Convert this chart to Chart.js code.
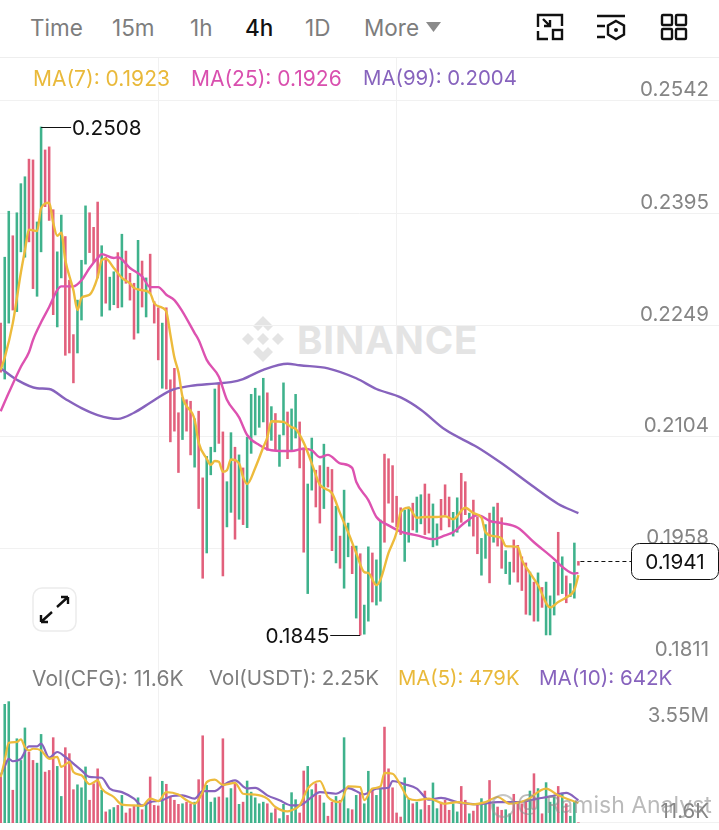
<!DOCTYPE html>
<html>
<head>
<meta charset="utf-8">
<title>CFG/USDT 4h</title>
<script src="https://cdn.jsdelivr.net/npm/chart.js@4"></script>
<style>
html, body { margin: 0; padding: 0; background: #fff; }
body { width: 719px; height: 830px; position: relative; overflow: hidden; font-family: Inter, sans-serif; }
.txt { position: absolute; white-space: nowrap; line-height: 1; }
canvas { position: absolute; left: 0; }
#priceChart { top: 58px; }
#volChart { top: 661px; }
#rule { position: absolute; left: 0; top: 57px; width: 719px; height: 1px; background: #eeeeee; }
</style>
</head>
<body>
<!-- watermark sits under the charts -->
<svg style="position:absolute;left:238px;top:314px" width="50" height="50" viewBox="0 0 50 50" fill="#e4e4e4">
  <path d="M25 2 L35 12 L30 17 L25 12 L20 17 L15 12 Z"/>
  <path d="M25 48 L35 38 L30 33 L25 38 L20 33 L15 38 Z"/>
  <path d="M25 19 L31 25 L25 31 L19 25 Z"/>
  <path d="M10 19 L16 25 L10 31 L4 25 Z"/>
  <path d="M40 19 L46 25 L40 31 L34 25 Z"/>
</svg>
<div class="txt" style="left:297px;top:321px;font-size:38.5px;font-weight:700;color:#e4e4e4;letter-spacing:.8px">BINANCE</div>

<canvas id="priceChart" width="719" height="603"></canvas>
<canvas id="volChart" width="719" height="162"></canvas>
<div id="rule"></div>

<div class="txt" style="left:30px;top:17px;font-size:22.5px;color:#7d7d7d">Time</div>
<div class="txt" style="left:112px;top:17px;font-size:22.5px;color:#7d7d7d">15m</div>
<div class="txt" style="left:190px;top:17px;font-size:22.5px;color:#7d7d7d">1h</div>
<div class="txt" style="left:245px;top:17px;font-size:22.5px;color:#111;font-weight:500">4h</div>
<div class="txt" style="left:305px;top:17px;font-size:22.5px;color:#7d7d7d">1D</div>
<div class="txt" style="left:364px;top:17px;font-size:22.5px;color:#7d7d7d">More</div>
<svg style="position:absolute;left:426px;top:22px" width="15" height="11"><path d="M0 0H15L7.5 10Z" fill="#8a8a8a"/></svg>

<svg style="position:absolute;left:536px;top:13px" width="28" height="28" viewBox="0 0 28 28" fill="none" stroke="#111" stroke-width="2.4">
  <path d="M2 14V2H26V13M2 18V26H12"/><rect x="17" y="17" width="9" height="9"/><path d="M7 6L14 13M14 7V13H8"/>
</svg>
<svg style="position:absolute;left:597px;top:13px" width="30" height="28" viewBox="0 0 30 28" fill="none" stroke="#111" stroke-width="2.4">
  <path d="M0 3H28M0 13H8M0 24H8"/><path d="M19 8L27 12.5V21.5L19 26L11 21.5V12.5Z"/><circle cx="19" cy="17" r="2" fill="#111" stroke="none"/>
</svg>
<svg style="position:absolute;left:660px;top:13px" width="28" height="28" viewBox="0 0 28 28" fill="none" stroke="#111" stroke-width="2.4">
  <rect x="2" y="2" width="10" height="10" rx="1"/><rect x="16" y="2" width="10" height="10" rx="1"/>
  <rect x="2" y="16" width="10" height="10" rx="1"/><rect x="16" y="16" width="10" height="10" rx="1"/>
</svg>

<div class="txt" style="left:33px;top:68px;font-size:21px;color:#e9b93a">MA(7): 0.1923</div>
<div class="txt" style="left:191px;top:68px;font-size:21px;color:#d94fae">MA(25): 0.1926</div>
<div class="txt" style="left:363px;top:68px;font-size:20.4px;color:#8763bd">MA(99): 0.2004</div>

<div class="txt" style="left:32px;top:668px;font-size:21px;color:#7d7d7d">Vol(CFG): 11.6K</div>
<div class="txt" style="left:209px;top:668px;font-size:20.5px;color:#7d7d7d">Vol(USDT): 2.25K</div>
<div class="txt" style="left:398px;top:668px;font-size:20.3px;color:#e9b93a">MA(5): 479K</div>
<div class="txt" style="left:539px;top:668px;font-size:20.6px;color:#8763bd">MA(10): 642K</div>

<svg style="position:absolute;left:32px;top:587px" width="45" height="45" viewBox="0 0 45 45" fill="none">
  <rect x="1" y="1" width="43" height="43" rx="9" fill="#fff" stroke="#ececec" stroke-width="1.5"/>
  <path d="M9 35L20 25M9 35V28M9 35H16M36 10L25 20M36 10V17M36 10H29" stroke="#111" stroke-width="2.4"/>
</svg>

<!-- repost watermark over the volume pane -->
<svg style="position:absolute;left:488px;top:791px" width="30" height="30" fill="none" stroke="rgba(150,150,150,.55)" stroke-width="2"><circle cx="15" cy="15" r="11"/></svg>
<div class="txt" style="left:517px;top:794px;font-size:23px;color:rgba(140,140,140,.6)">@ Ramish Analyst</div>

<script>
// candles, top to bottom of each bar
const candleHigh = [
  0.2252,0.2338,0.2398,0.2366,0.2396,0.2434,0.2443,0.2466,0.2465,0.2384,
  0.2508,0.2478,0.2482,0.2400,0.2345,0.2393,0.2365,0.2308,0.2237,0.2282,
  0.2334,0.2405,0.2396,0.2377,0.2410,0.2353,0.2338,0.2312,0.2319,0.2344,
  0.2368,0.2346,0.2317,0.2304,0.2360,0.2333,0.2311,0.2342,0.2280,0.2272,
  0.2252,0.2272,0.2178,0.2193,0.2135,0.2155,0.2152,0.2150,0.2127,0.2137,
  0.2050,0.2078,0.2090,0.2166,0.2174,0.2110,0.2045,0.2109,0.2090,0.2080,
  0.2063,0.2103,0.2159,0.2167,0.2157,0.2180,0.2161,0.2143,0.2134,0.2106,
  0.2174,0.2136,0.2140,0.2159,0.2123,0.2089,0.2042,0.2102,0.2060,0.2066,
  0.2094,0.2064,0.2061,0.2013,0.1974,0.2034,0.1991,0.1961,0.1961,0.1951,
  0.1884,0.1960,0.1952,0.1943,0.1995,0.2081,0.2075,0.2066,0.2026,0.2011,
  0.2008,0.2012,0.2017,0.2025,0.2028,0.2042,0.2029,0.2016,0.1990,0.2022,
  0.2041,0.2025,0.2005,0.2024,0.2056,0.2045,0.2004,0.2021,0.1999,0.1971,
  0.1989,0.2004,0.2012,0.2017,0.1998,0.1955,0.1940,0.1969,0.1962,0.1947,
  0.1939,0.1927,0.1914,0.1926,0.1907,0.1914,0.1896,0.1940,0.1979,0.1947,
  0.1922,0.1912,0.1965,0.1941
];
const candleLow = [
  0.2188,0.2179,0.2252,0.2269,0.2267,0.2345,0.2338,0.2358,0.2297,0.2287,
  0.2345,0.2404,0.2386,0.2263,0.2247,0.2311,0.2210,0.2213,0.2174,0.2213,
  0.2256,0.2329,0.2344,0.2331,0.2311,0.2261,0.2278,0.2269,0.2276,0.2272,
  0.2273,0.2304,0.2282,0.2231,0.2239,0.2273,0.2260,0.2291,0.2252,0.2204,
  0.2167,0.2166,0.2097,0.2111,0.2057,0.2100,0.2111,0.2080,0.2064,0.2010,
  0.1919,0.1952,0.2054,0.2084,0.2095,0.1922,0.1986,0.2005,0.1970,0.1996,
  0.1989,0.1985,0.2082,0.2106,0.2116,0.2123,0.2086,0.2099,0.2086,0.2065,
  0.2106,0.2075,0.2086,0.2102,0.2063,0.1953,0.1899,0.2034,0.2012,0.1991,
  0.2010,0.2038,0.1955,0.1939,0.1932,0.1906,0.1947,0.1925,0.1867,0.1845,
  0.1846,0.1863,0.1888,0.1884,0.1889,0.1966,0.2017,0.1992,0.1986,0.1976,
  0.1941,0.1966,0.1982,0.1979,0.1990,0.1976,0.1978,0.1960,0.1962,0.1982,
  0.2002,0.1986,0.1974,0.1979,0.1992,0.2002,0.1987,0.1974,0.1951,0.1923,
  0.1945,0.1913,0.1966,0.1961,0.1932,0.1925,0.1911,0.1927,0.1914,0.1903,
  0.1872,0.1871,0.1863,0.1863,0.1881,0.1845,0.1845,0.1871,0.1897,0.1899,
  0.1887,0.1895,0.1893,0.1936
];
// g = up, r = down
const candleDir =
  'rggrgggrrg' + 'grrrggrrrg' + 'ggrrrgrggr' + 'grrrgrgrrr' +
  'grrrrgrrgr' + 'rgggrrggrg' + 'rgggggrgrg' + 'grggrrggrr' +
  'grrgrggrgr' + 'ggrggrrrrr' + 'ggrggrrggr' + 'rrggrrgrrg' +
  'grgrrggrrr' + 'rgrgrgggrg' + 'rgg';

const volume = [
  1.70,4.38,4.48,1.21,3.11,2.31,3.51,2.62,2.31,2.21,
  3.27,1.88,1.94,3.15,2.09,0.98,2.78,2.56,1.23,1.41,
  1.30,2.07,0.84,1.45,2.00,1.21,0.41,0.49,0.57,0.65,
  1.02,0.37,0.53,0.65,0.93,0.49,0.71,1.70,0.65,0.63,
  1.54,1.43,0.98,0.84,0.69,0.71,0.77,0.71,0.77,1.60,
  3.22,1.39,0.77,0.93,0.96,3.11,0.93,1.27,1.48,0.69,
  0.77,1.55,1.14,0.93,0.71,0.77,0.71,0.37,0.53,0.16,
  0.69,0.28,1.12,0.86,0.37,1.92,2.09,1.23,1.45,1.02,
  0.74,0.25,0.77,0.98,0.84,3.15,0.53,0.49,1.02,1.08,
  0.71,1.91,1.21,1.02,1.27,3.54,2.00,1.30,0.37,0.22,
  1.67,0.90,0.71,0.77,0.49,1.18,0.65,1.48,0.53,0.77,
  0.84,0.47,0.71,0.41,1.35,0.84,0.34,0.44,0.71,0.90,
  0.71,1.57,0.71,0.59,0.47,0.49,0.34,1.06,0.71,0.71,
  0.84,1.18,1.82,1.27,0.34,1.49,0.77,0.96,1.35,1.08,
  0.71,0.25,0.77,0.0116
];

// moving averages: candle number, then value at that candle
const ma7Idx = [0,1,3,5,6,7,9,10,12,13,14,15,16,18,19,20,22,24,25,26,28,30,32,33,35,37,38,40,41,42,43,44,45,48,49,51,52,53,54,55,56,57,59,60,61,63,65,66,67,70,72,73,75,77,79,82,84,86,88,90,91,93,94,96,98,99,101,103,105,108,110,112,115,117,119,120,122,124,125,128,129,131,133,136,138,140,142,143];
const ma7 = [0.2191,0.2207,0.2252,0.2318,0.2347,0.2374,0.2372,0.2402,0.2409,0.2383,0.2366,0.2370,0.2334,0.2295,0.2269,0.2285,0.2289,0.2312,0.2334,0.2336,0.2324,0.2311,0.2304,0.2298,0.2295,0.2291,0.2278,0.2272,0.2267,0.2237,0.2207,0.2188,0.2156,0.2126,0.2096,0.2075,0.2067,0.2072,0.2071,0.2058,0.2060,0.2074,0.2069,0.2051,0.2042,0.2063,0.2090,0.2103,0.2124,0.2123,0.2116,0.2114,0.2096,0.2069,0.2041,0.2030,0.2004,0.1979,0.1952,0.1927,0.1926,0.1910,0.1917,0.1952,0.1979,0.2005,0.2011,0.1998,0.1999,0.1999,0.2000,0.1996,0.2011,0.2004,0.1998,0.1979,0.1974,0.1971,0.1961,0.1960,0.1943,0.1926,0.1910,0.1881,0.1888,0.1894,0.1904,0.1923];

const ma25Idx = [0,2,5,7,8,10,12,14,15,18,20,22,24,25,28,29,32,35,37,39,41,43,45,48,49,51,54,56,59,61,64,67,70,72,75,77,79,81,84,87,88,91,93,96,99,103,107,110,112,115,118,119,121,124,128,132,137,139,142,143];
const ma25 = [0.2137,0.2161,0.2195,0.2214,0.2230,0.2253,0.2273,0.2295,0.2300,0.2300,0.2308,0.2324,0.2337,0.2342,0.2337,0.2338,0.2324,0.2313,0.2299,0.2299,0.2289,0.2282,0.2267,0.2239,0.2230,0.2204,0.2182,0.2152,0.2129,0.2106,0.2093,0.2086,0.2085,0.2085,0.2088,0.2086,0.2077,0.2080,0.2069,0.2063,0.2045,0.2021,0.1999,0.1988,0.1980,0.1975,0.1970,0.1975,0.1979,0.1992,0.2001,0.2000,0.1994,0.1991,0.1985,0.1966,0.1944,0.1934,0.1925,0.1926];

const ma99Idx = [0,4,9,12,16,20,24,29,33,37,42,47,53,57,60,65,71,74,81,88,93,99,104,110,118,124,132,138,143];
const ma99 = [0.2193,0.2178,0.2167,0.2166,0.2153,0.2141,0.2132,0.2127,0.2135,0.2148,0.2164,0.2170,0.2173,0.2175,0.2179,0.2191,0.2199,0.2197,0.2193,0.2180,0.2166,0.2155,0.2139,0.2113,0.2090,0.2069,0.2038,0.2016,0.2004];

const volMa5Idx = [0,1,2,4,5,6,7,8,10,11,12,14,15,17,18,20,22,24,25,28,30,33,35,37,39,41,44,46,48,50,51,53,55,58,60,63,66,68,71,72,74,76,79,81,84,86,89,90,92,94,95,97,99,101,103,106,110,113,117,120,123,126,130,135,138,143];
const volMa5 = [1.70,2.31,2.96,2.99,3.09,2.80,2.68,2.74,2.68,2.50,2.37,2.44,2.07,2.25,1.88,1.76,1.43,1.57,1.27,0.96,0.68,0.65,0.63,0.90,0.81,1.14,1.05,0.84,0.71,1.14,1.51,1.60,1.41,1.48,1.08,1.05,0.90,0.59,0.43,0.47,0.65,1.27,1.55,0.96,0.77,1.35,1.33,0.84,1.27,1.35,1.85,1.82,1.39,0.90,0.84,0.90,0.71,0.77,0.69,0.77,0.96,0.71,0.84,1.27,1.02,0.74];

const volMa10Idx = [0,1,2,3,5,7,9,10,12,14,16,18,20,22,25,27,30,33,35,37,40,42,45,48,50,53,55,58,61,63,66,69,72,74,77,79,83,86,90,93,96,97,100,103,106,109,113,118,123,128,133,136,140,143];
const volMa10 = [1.76,2.09,2.37,2.28,2.37,2.83,2.83,2.93,2.41,2.62,2.44,2.19,1.94,1.70,1.67,1.27,1.14,0.90,0.65,0.77,0.84,0.98,1.02,0.90,1.18,1.18,1.39,1.57,1.27,1.30,1.02,0.84,0.65,0.65,0.96,1.14,1.08,1.29,1.06,1.27,1.30,1.55,1.43,1.27,0.86,0.93,0.77,0.69,0.77,0.77,0.90,0.98,1.11,0.84];

const priceTicks = [0.1811, 0.1958, 0.2104, 0.2249, 0.2395, 0.2542];
const priceTickLabels = ['0.1811', '0.1958', '0.2104', '0.2249', '0.2395', '0.2542'];
const volTicks = [0.0116, 3.55];
const volTickLabels = ['11.6K', '3.55M'];
const dateGridIdx = [39, 98];   // the two vertical grid lines

const highMark = { idx: 10, value: 0.2508 };
const lowMark = { idx: 89, value: 0.1845 };
const lastPrice = 0.1941;

const GREEN = '#3fb28c';
const RED = '#e2607c';
const YELLOW = '#edbb3c';
const PINK = '#dd52b0';
const PURPLE = '#8763bd';
const GRID = '#f1f1f1';

function pairs(idx, vals) {
  return idx.map((x, i) => ({ x: x, y: vals[i] }));
}

function lineSet(label, idx, vals, color, width) {
  return {
    type: 'line',
    label: label,
    data: pairs(idx, vals),
    borderColor: color,
    borderWidth: width,
    pointRadius: 0,
    cubicInterpolationMode: 'monotone',
    order: 1
  };
}

function barColors() {
  return candleHigh.map((v, i) => candleDir[i] === 'g' ? GREEN : RED);
}

// x scale is the same in both panes
function xScale() {
  return {
    type: 'linear',
    min: -0.17,
    max: 177.8,
    offset: false,
    border: { display: false },
    grid: { color: GRID, offset: false, drawTicks: false },
    ticks: { display: false },
    afterBuildTicks: axis => { axis.ticks = dateGridIdx.map(v => ({ value: v })); }
  };
}

// labels sit on the right, inside the plot, above their grid line
function tickLabels(id, ticks, labels) {
  return {
    id: id,
    afterDatasetsDraw(chart) {
      const { ctx, scales: { y } } = chart;
      ctx.save();
      ctx.font = '20.5px Inter, sans-serif';
      ctx.fillStyle = '#858585';
      ctx.textAlign = 'right';
      ctx.textBaseline = 'middle';
      ticks.forEach((v, i) => ctx.fillText(labels[i], 709, y.getPixelForValue(v) - 11));
      ctx.restore();
    }
  };
}

// high, low and last price markers
const markers = {
  id: 'markers',
  afterDatasetsDraw(chart) {
    const { ctx, scales: { x, y } } = chart;
    ctx.save();
    ctx.font = '20.7px Inter, sans-serif';
    ctx.fillStyle = '#111';
    ctx.strokeStyle = '#111';
    ctx.lineWidth = 1;
    ctx.textBaseline = 'middle';

    const hx = x.getPixelForValue(highMark.idx), hy = Math.round(y.getPixelForValue(highMark.value)) + 0.5;
    ctx.beginPath(); ctx.moveTo(hx, hy); ctx.lineTo(hx + 30, hy); ctx.stroke();
    ctx.textAlign = 'left';
    ctx.fillText(highMark.value.toFixed(4), hx + 31, hy + 1);

    const lx = x.getPixelForValue(lowMark.idx), ly = Math.round(y.getPixelForValue(lowMark.value)) + 0.5;
    ctx.beginPath(); ctx.moveTo(lx, ly); ctx.lineTo(lx - 30, ly); ctx.stroke();
    ctx.textAlign = 'right';
    ctx.fillText(lowMark.value.toFixed(4), lx - 31, ly + 1);

    const ey = Math.round(y.getPixelForValue(lastPrice)) + 0.5;
    ctx.setLineDash([4, 3]);
    ctx.beginPath(); ctx.moveTo(x.getPixelForValue(143) + 2, ey); ctx.lineTo(632, ey); ctx.stroke();
    ctx.setLineDash([]);
    ctx.beginPath();
    ctx.roundRect(631.5, ey - 18, 87, 36, 8);
    ctx.fillStyle = '#fff';
    ctx.fill();
    ctx.stroke();
    ctx.fillStyle = '#111';
    ctx.textAlign = 'center';
    ctx.fillText(lastPrice.toFixed(4), 675, ey + 1);
    ctx.restore();
  }
};

new Chart(document.getElementById('priceChart').getContext('2d'), {
  type: 'bar',
  data: {
    datasets: [
      lineSet('MA(7)', ma7Idx, ma7, YELLOW, 2.4),
      lineSet('MA(25)', ma25Idx, ma25, PINK, 2.4),
      lineSet('MA(99)', ma99Idx, ma99, PURPLE, 2.4),
      {
        label: 'CFG/USDT',
        data: candleHigh.map((h, i) => ({ x: i, y: [candleLow[i], h] })),
        backgroundColor: barColors(),
        barThickness: 1.9,
        order: 2
      }
    ]
  },
  options: {
    responsive: false,
    animation: false,
    events: [],
    layout: { padding: 0 },
    plugins: { legend: { display: false }, tooltip: { enabled: false } },
    scales: {
      x: xScale(),
      y: {
        position: 'right',
        min: 0.1811,
        max: 0.2598,
        border: { display: false },
        grid: { color: GRID, drawTicks: false },
        ticks: { display: false },
        afterBuildTicks: axis => { axis.ticks = priceTicks.map(v => ({ value: v })); }
      }
    }
  },
  plugins: [tickLabels('priceLabels', priceTicks, priceTickLabels), markers]
});

new Chart(document.getElementById('volChart').getContext('2d'), {
  type: 'bar',
  data: {
    datasets: [
      lineSet('MA(5)', volMa5Idx, volMa5, YELLOW, 2.2),
      lineSet('MA(10)', volMa10Idx, volMa10, PURPLE, 2.2),
      {
        label: 'Vol',
        data: volume.map((v, i) => ({ x: i, y: v })),
        backgroundColor: barColors(),
        barThickness: 1.9,
        order: 2
      }
    ]
  },
  options: {
    responsive: false,
    animation: false,
    events: [],
    layout: { padding: 0 },
    plugins: { legend: { display: false }, tooltip: { enabled: false } },
    scales: {
      x: xScale(),
      y: {
        position: 'right',
        min: 0,
        max: 5.98,
        border: { display: false },
        grid: { color: ctx => ctx.tick && ctx.tick.value === 3.55 ? 'transparent' : GRID, drawTicks: false },
        ticks: { display: false },
        afterBuildTicks: axis => { axis.ticks = volTicks.map(v => ({ value: v })); }
      }
    }
  },
  plugins: [tickLabels('volLabels', volTicks, volTickLabels)]
});
</script>
</body>
</html>
